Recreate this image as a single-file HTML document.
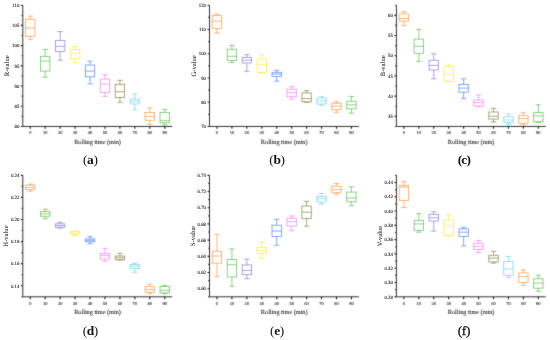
<!DOCTYPE html>
<html><head><meta charset="utf-8"><title>Box plots</title>
<style>
html,body{margin:0;padding:0;background:#fff;}
body{width:550px;height:340px;overflow:hidden;}
svg{display:block;}
svg g{fill:none;stroke-width:0.85;}
.ax{fill:none;stroke:#333;stroke-width:1.0;}
.tk{fill:none;stroke:#222;stroke-width:1.15;}
text{font-family:"Liberation Serif","Times New Roman",serif;fill:#222;}
.ty{font-size:4.8px;text-anchor:end;stroke:#333;stroke-width:0.1px;text-rendering:geometricPrecision;}
.tx{font-size:4.5px;text-anchor:middle;stroke:#333;stroke-width:0.1px;text-rendering:geometricPrecision;}
.xt{font-size:6.3px;text-anchor:middle;stroke:#333;stroke-width:0.08px;text-rendering:geometricPrecision;letter-spacing:-0.03px;}
.yt{font-size:6.6px;text-anchor:middle;stroke:#444;stroke-width:0.06px;text-rendering:geometricPrecision;}
.pl{font-size:13.4px;letter-spacing:-0.35px;font-weight:bold;text-anchor:middle;fill:#111;}
.pp{font-weight:normal;}
</style></head>
<body>
<svg width="550" height="340" viewBox="0 0 550 340">
<defs><filter id="bl" x="0" y="0" width="550" height="340" filterUnits="userSpaceOnUse" color-interpolation-filters="sRGB"><feConvolveMatrix order="3" kernelMatrix="1 2 1 2 20 2 1 2 1" edgeMode="duplicate"/></filter></defs>
<rect width="550" height="340" fill="#fff"/>
<g filter="url(#bl)">
<rect width="550" height="340" fill="#fff"/>
<g stroke="#F8A867"><rect x="25.57" y="19.3" width="9.4" height="17.2"/><path d="M25.57 27.9H34.97M30.27 19.3V16.2M30.27 36.5V39.3M27.57 16.2H32.97M27.57 39.3H32.97"/></g>
<g stroke="#79C670"><rect x="40.51" y="56.4" width="9.4" height="14.7"/><path d="M40.51 61H49.91M45.21 56.4V49.5M45.21 71.1V77.2M42.51 49.5H47.91M42.51 77.2H47.91"/></g>
<g stroke="#A092D8"><rect x="55.45" y="40.5" width="9.4" height="10.9"/><path d="M55.45 46.3H64.85M60.15 40.5V31.5M60.15 51.4V60.2M57.45 31.5H62.85M57.45 60.2H62.85"/></g>
<g stroke="#F6EC5E"><rect x="70.39" y="49.5" width="9.4" height="9.2"/><path d="M70.39 53.3H79.79M75.09 49.5V46.6M75.09 58.7V62.5M72.39 46.6H77.79M72.39 62.5H77.79"/></g>
<g stroke="#6A9AEE"><rect x="85.33" y="65" width="9.4" height="11.8"/><path d="M85.33 71.1H94.73M90.03 65V61.2M90.03 76.8V83.9M87.33 61.2H92.73M87.33 83.9H92.73"/></g>
<g stroke="#F393F0"><rect x="100.27" y="79.1" width="9.4" height="13.3"/><path d="M100.27 84.2H109.67M104.97 79.1V74.7M104.97 92.4V96.4M102.27 74.7H107.67M102.27 96.4H107.67"/></g>
<g stroke="#999867"><rect x="115.21" y="84.3" width="9.4" height="13.2"/><path d="M115.21 91.7H124.61M119.91 84.3V80.3M119.91 97.5V102.3M117.21 80.3H122.61M117.21 102.3H122.61"/></g>
<g stroke="#8CD6E8"><rect x="130.15" y="99.1" width="9.4" height="4.8"/><path d="M130.15 101.2H139.55M134.85 99.1V94M134.85 103.9V109.8M132.15 94H137.55M132.15 109.8H137.55"/></g>
<g stroke="#F8A867"><rect x="145.09" y="112.5" width="9.4" height="7.8"/><path d="M145.09 116.6H154.49M149.79 112.5V107.8M149.79 120.3V124.4M147.09 107.8H152.49M147.09 124.4H152.49"/></g>
<g stroke="#79C670"><rect x="160.03" y="112.5" width="9.4" height="10.3"/><path d="M160.03 120.7H169.43M164.73 112.5V109.6M164.73 122.8V124.9M162.03 109.6H167.43M162.03 124.9H167.43"/></g>
<path class="ax" d="M22.8 5.2V126.45H172.2"/>
<path class="tk" d="M20.8 126.45H22.8M20.8 106.24H22.8M20.8 86.03H22.8M20.8 65.83H22.8M20.8 45.62H22.8M20.8 25.41H22.8M20.8 5.2H22.8M21.6 116.35H22.8M21.6 96.14H22.8M21.6 75.93H22.8M21.6 55.72H22.8M21.6 35.51H22.8M21.6 15.3H22.8M30.27 126.45V128.85M45.21 126.45V128.85M60.15 126.45V128.85M75.09 126.45V128.85M90.03 126.45V128.85M104.97 126.45V128.85M119.91 126.45V128.85M134.85 126.45V128.85M149.79 126.45V128.85M164.73 126.45V128.85"/>
<text class="tx" x="30.27" y="134.25">0</text>
<text class="tx" x="45.21" y="134.25">10</text>
<text class="tx" x="60.15" y="134.25">20</text>
<text class="tx" x="75.09" y="134.25">30</text>
<text class="tx" x="90.03" y="134.25">40</text>
<text class="tx" x="104.97" y="134.25">50</text>
<text class="tx" x="119.91" y="134.25">60</text>
<text class="tx" x="134.85" y="134.25">70</text>
<text class="tx" x="149.79" y="134.25">80</text>
<text class="tx" x="164.73" y="134.25">90</text>
<text class="xt" x="97.5" y="143.95">Rolling time (min)</text>
<g stroke="#F8A867"><rect x="212.27" y="15.4" width="9.4" height="13"/><path d="M212.27 21.2H221.67M216.97 15.4V14M216.97 28.4V32.9M214.27 14H219.67M214.27 32.9H219.67"/></g>
<g stroke="#79C670"><rect x="227.21" y="49.3" width="9.4" height="11.1"/><path d="M227.21 56.3H236.61M231.91 49.3V45.5M231.91 60.4V62.5M229.21 45.5H234.61M229.21 62.5H234.61"/></g>
<g stroke="#A092D8"><rect x="242.15" y="57.4" width="9.4" height="5.6"/><path d="M242.15 60.2H251.55M246.85 57.4V54.7M246.85 63V71.3M244.15 54.7H249.55M244.15 71.3H249.55"/></g>
<g stroke="#F6EC5E"><rect x="257.09" y="59" width="9.4" height="13.5"/><path d="M257.09 64.5H266.49M261.79 59V54.8M261.79 72.5V73M259.09 54.8H264.49M259.09 73H264.49"/></g>
<g stroke="#6A9AEE"><rect x="272.03" y="72.3" width="9.4" height="4.1"/><path d="M272.03 74H281.43M276.73 72.3V70.3M276.73 76.4V81.2M274.03 70.3H279.43M274.03 81.2H279.43"/></g>
<g stroke="#F393F0"><rect x="286.97" y="89.2" width="9.4" height="7.5"/><path d="M286.97 92.6H296.37M291.67 89.2V86.6M291.67 96.7V99.2M288.97 86.6H294.37M288.97 99.2H294.37"/></g>
<g stroke="#999867"><rect x="301.91" y="92.9" width="9.4" height="8.9"/><path d="M301.91 98.6H311.31M306.61 92.9V90.6M306.61 101.8V102.3M303.91 90.6H309.31M303.91 102.3H309.31"/></g>
<g stroke="#8CD6E8"><rect x="316.85" y="98.2" width="9.4" height="5.8"/><path d="M316.85 100.9H326.25M321.55 98.2V96.5M321.55 104V105.3M318.85 96.5H324.25M318.85 105.3H324.25"/></g>
<g stroke="#F8A867"><rect x="331.79" y="103.2" width="9.4" height="6.5"/><path d="M331.79 106.2H341.19M336.49 103.2V101.8M336.49 109.7V112.4M333.79 101.8H339.19M333.79 112.4H339.19"/></g>
<g stroke="#79C670"><rect x="346.73" y="101.2" width="9.4" height="7.6"/><path d="M346.73 104.8H356.13M351.43 101.2V96.5M351.43 108.8V113.2M348.73 96.5H354.13M348.73 113.2H354.13"/></g>
<path class="ax" d="M209.5 5.2V126.45H358.9"/>
<path class="tk" d="M207.5 126.45H209.5M207.5 102.2H209.5M207.5 77.95H209.5M207.5 53.7H209.5M207.5 29.45H209.5M207.5 5.2H209.5M208.3 114.33H209.5M208.3 90.08H209.5M208.3 65.83H209.5M208.3 41.58H209.5M208.3 17.33H209.5M216.97 126.45V128.85M231.91 126.45V128.85M246.85 126.45V128.85M261.79 126.45V128.85M276.73 126.45V128.85M291.67 126.45V128.85M306.61 126.45V128.85M321.55 126.45V128.85M336.49 126.45V128.85M351.43 126.45V128.85"/>
<text class="tx" x="216.97" y="134.25">0</text>
<text class="tx" x="231.91" y="134.25">10</text>
<text class="tx" x="246.85" y="134.25">20</text>
<text class="tx" x="261.79" y="134.25">30</text>
<text class="tx" x="276.73" y="134.25">40</text>
<text class="tx" x="291.67" y="134.25">50</text>
<text class="tx" x="306.61" y="134.25">60</text>
<text class="tx" x="321.55" y="134.25">70</text>
<text class="tx" x="336.49" y="134.25">80</text>
<text class="tx" x="351.43" y="134.25">90</text>
<text class="xt" x="284.2" y="143.95">Rolling time (min)</text>
<g stroke="#F8A867"><rect x="399.17" y="14" width="9.4" height="7"/><path d="M399.17 18.5H408.57M403.87 14V11.7M403.87 21V25.7M401.17 11.7H406.57M401.17 25.7H406.57"/></g>
<g stroke="#79C670"><rect x="414.11" y="39.1" width="9.4" height="14.2"/><path d="M414.11 46.3H423.51M418.81 39.1V29.4M418.81 53.3V61.4M416.11 29.4H421.51M416.11 61.4H421.51"/></g>
<g stroke="#A092D8"><rect x="429.05" y="60.2" width="9.4" height="9.8"/><path d="M429.05 65.4H438.45M433.75 60.2V53.8M433.75 70V78.8M431.05 53.8H436.45M431.05 78.8H436.45"/></g>
<g stroke="#F6EC5E"><rect x="443.99" y="66.5" width="9.4" height="14.8"/><path d="M443.99 74.3H453.39M448.69 66.5V64.8M448.69 81.3V81.5M445.99 64.8H451.39M445.99 81.5H451.39"/></g>
<g stroke="#6A9AEE"><rect x="458.93" y="84.4" width="9.4" height="7.8"/><path d="M458.93 88.1H468.33M463.63 84.4V78.8M463.63 92.2V98.4M460.93 78.8H466.33M460.93 98.4H466.33"/></g>
<g stroke="#F393F0"><rect x="473.87" y="100" width="9.4" height="6.1"/><path d="M473.87 102.5H483.27M478.57 100V95M478.57 106.1V106.5M475.87 95H481.27M475.87 106.5H481.27"/></g>
<g stroke="#999867"><rect x="488.81" y="112" width="9.4" height="7.1"/><path d="M488.81 116.2H498.21M493.51 112V108.3M493.51 119.1V122.1M490.81 108.3H496.21M490.81 122.1H496.21"/></g>
<g stroke="#8CD6E8"><rect x="503.75" y="116.8" width="9.4" height="5.6"/><path d="M503.75 120H513.15M508.45 116.8V114.1M508.45 122.4V124.4M505.75 114.1H511.15M505.75 124.4H511.15"/></g>
<g stroke="#F8A867"><rect x="518.69" y="115.5" width="9.4" height="7.8"/><path d="M518.69 118.5H528.09M523.39 115.5V112.7M523.39 123.3V125M520.69 112.7H526.09M520.69 125H526.09"/></g>
<g stroke="#79C670"><rect x="533.63" y="112.4" width="9.4" height="9.3"/><path d="M533.63 115.9H543.03M538.33 112.4V104.8M538.33 121.7V122.4M535.63 104.8H541.03M535.63 122.4H541.03"/></g>
<path class="ax" d="M396.4 5.2V126.45H545.8"/>
<path class="tk" d="M394.4 116.35H396.4M394.4 96.14H396.4M394.4 75.93H396.4M394.4 55.72H396.4M394.4 35.51H396.4M394.4 15.3H396.4M395.2 126.45H396.4M395.2 106.24H396.4M395.2 86.03H396.4M395.2 65.83H396.4M395.2 45.62H396.4M395.2 25.41H396.4M395.2 5.2H396.4M403.87 126.45V128.85M418.81 126.45V128.85M433.75 126.45V128.85M448.69 126.45V128.85M463.63 126.45V128.85M478.57 126.45V128.85M493.51 126.45V128.85M508.45 126.45V128.85M523.39 126.45V128.85M538.33 126.45V128.85"/>
<text class="tx" x="403.87" y="134.25">0</text>
<text class="tx" x="418.81" y="134.25">10</text>
<text class="tx" x="433.75" y="134.25">20</text>
<text class="tx" x="448.69" y="134.25">30</text>
<text class="tx" x="463.63" y="134.25">40</text>
<text class="tx" x="478.57" y="134.25">50</text>
<text class="tx" x="493.51" y="134.25">60</text>
<text class="tx" x="508.45" y="134.25">70</text>
<text class="tx" x="523.39" y="134.25">80</text>
<text class="tx" x="538.33" y="134.25">90</text>
<text class="xt" x="471.1" y="143.95">Rolling time (min)</text>
<g stroke="#F8A867"><rect x="25.57" y="185" width="9.4" height="4.6"/><path d="M25.57 187.4H34.97M30.27 185V184.2M30.27 189.6V191.2M27.57 184.2H32.97M27.57 191.2H32.97"/></g>
<g stroke="#79C670"><rect x="40.51" y="211.6" width="9.4" height="4.7"/><path d="M40.51 213.9H49.91M45.21 211.6V209.1M45.21 216.3V218.8M42.51 209.1H47.91M42.51 218.8H47.91"/></g>
<g stroke="#A092D8"><rect x="55.45" y="223.8" width="9.4" height="3.4"/><path d="M55.45 225.6H64.85M60.15 223.8V222.3M60.15 227.2V228.2M57.45 222.3H62.85M57.45 228.2H62.85"/></g>
<g stroke="#F6EC5E"><rect x="70.39" y="231.5" width="9.4" height="2.7"/><path d="M70.39 233H79.79M75.09 231.5V231M75.09 234.2V235.5M72.39 231H77.79M72.39 235.5H77.79"/></g>
<g stroke="#6A9AEE"><rect x="85.33" y="238.9" width="9.4" height="2.8"/><path d="M85.33 240.2H94.73M90.03 238.9V236.6M90.03 241.7V243.7M87.33 236.6H92.73M87.33 243.7H92.73"/></g>
<g stroke="#F393F0"><rect x="100.27" y="253.4" width="9.4" height="5.7"/><path d="M100.27 255.6H109.67M104.97 253.4V248.4M104.97 259.1V261.2M102.27 248.4H107.67M102.27 261.2H107.67"/></g>
<g stroke="#999867"><rect x="115.21" y="256" width="9.4" height="3.7"/><path d="M115.21 257.7H124.61M119.91 256V253.4M119.91 259.7V260.1M117.21 253.4H122.61M117.21 260.1H122.61"/></g>
<g stroke="#8CD6E8"><rect x="130.15" y="264.5" width="9.4" height="4.1"/><path d="M130.15 266.3H139.55M134.85 264.5V263.2M134.85 268.6V272.2M132.15 263.2H137.55M132.15 272.2H137.55"/></g>
<g stroke="#F8A867"><rect x="145.09" y="286.4" width="9.4" height="5.7"/><path d="M145.09 289.4H154.49M149.79 286.4V284.1M149.79 292.1V293.8M147.09 284.1H152.49M147.09 293.8H152.49"/></g>
<g stroke="#79C670"><rect x="160.03" y="286.4" width="9.4" height="6.5"/><path d="M160.03 290.3H169.43M164.73 286.4V285.5M164.73 292.9V293.8M162.03 285.5H167.43M162.03 293.8H167.43"/></g>
<path class="ax" d="M22.8 175.3V296.8H172.2"/>
<path class="tk" d="M20.8 285.75H22.8M20.8 263.66H22.8M20.8 241.57H22.8M20.8 219.48H22.8M20.8 197.39H22.8M20.8 175.3H22.8M21.6 296.8H22.8M21.6 274.71H22.8M21.6 252.62H22.8M21.6 230.53H22.8M21.6 208.44H22.8M21.6 186.35H22.8M30.27 296.8V299.2M45.21 296.8V299.2M60.15 296.8V299.2M75.09 296.8V299.2M90.03 296.8V299.2M104.97 296.8V299.2M119.91 296.8V299.2M134.85 296.8V299.2M149.79 296.8V299.2M164.73 296.8V299.2"/>
<text class="tx" x="30.27" y="304.6">0</text>
<text class="tx" x="45.21" y="304.6">10</text>
<text class="tx" x="60.15" y="304.6">20</text>
<text class="tx" x="75.09" y="304.6">30</text>
<text class="tx" x="90.03" y="304.6">40</text>
<text class="tx" x="104.97" y="304.6">50</text>
<text class="tx" x="119.91" y="304.6">60</text>
<text class="tx" x="134.85" y="304.6">70</text>
<text class="tx" x="149.79" y="304.6">80</text>
<text class="tx" x="164.73" y="304.6">90</text>
<text class="xt" x="97.5" y="314.3">Rolling time (min)</text>
<g stroke="#F8A867"><rect x="212.27" y="251.3" width="9.4" height="11.9"/><path d="M212.27 256H221.67M216.97 251.3V234.4M216.97 263.2V276.6M214.27 234.4H219.67M214.27 276.6H219.67"/></g>
<g stroke="#79C670"><rect x="227.21" y="259.5" width="9.4" height="17.5"/><path d="M227.21 264.7H236.61M231.91 259.5V248.8M231.91 277V286.3M229.21 248.8H234.61M229.21 286.3H234.61"/></g>
<g stroke="#A092D8"><rect x="242.15" y="264.9" width="9.4" height="9.7"/><path d="M242.15 270.4H251.55M246.85 264.9V259.1M246.85 274.6V278.7M244.15 259.1H249.55M244.15 278.7H249.55"/></g>
<g stroke="#F6EC5E"><rect x="257.09" y="247.4" width="9.4" height="6"/><path d="M257.09 250.5H266.49M261.79 247.4V242.2M261.79 253.4V258.7M259.09 242.2H264.49M259.09 258.7H264.49"/></g>
<g stroke="#6A9AEE"><rect x="272.03" y="225.2" width="9.4" height="11.3"/><path d="M272.03 231H281.43M276.73 225.2V219.4M276.73 236.5V245.3M274.03 219.4H279.43M274.03 245.3H279.43"/></g>
<g stroke="#F393F0"><rect x="286.97" y="218.2" width="9.4" height="7.8"/><path d="M286.97 221.7H296.37M291.67 218.2V216M291.67 226V230.7M288.97 216H294.37M288.97 230.7H294.37"/></g>
<g stroke="#999867"><rect x="301.91" y="206" width="9.4" height="12.4"/><path d="M301.91 212.2H311.31M306.61 206V201.3M306.61 218.4V226.2M303.91 201.3H309.31M303.91 226.2H309.31"/></g>
<g stroke="#8CD6E8"><rect x="316.85" y="196.4" width="9.4" height="5.6"/><path d="M316.85 198.6H326.25M321.55 196.4V193.5M321.55 202V204.1M318.85 193.5H324.25M318.85 204.1H324.25"/></g>
<g stroke="#F8A867"><rect x="331.79" y="186.2" width="9.4" height="6.3"/><path d="M331.79 189.5H341.19M336.49 186.2V183.5M336.49 192.5V194.2M333.79 183.5H339.19M333.79 194.2H339.19"/></g>
<g stroke="#79C670"><rect x="346.73" y="192.1" width="9.4" height="9.7"/><path d="M346.73 197.9H356.13M351.43 192.1V186.8M351.43 201.8V205.8M348.73 186.8H354.13M348.73 205.8H354.13"/></g>
<path class="ax" d="M209.5 175.3V296.8H358.9"/>
<path class="tk" d="M207.5 288.7H209.5M207.5 272.5H209.5M207.5 256.3H209.5M207.5 240.1H209.5M207.5 223.9H209.5M207.5 207.7H209.5M207.5 191.5H209.5M207.5 175.3H209.5M208.3 296.8H209.5M208.3 280.6H209.5M208.3 264.4H209.5M208.3 248.2H209.5M208.3 232H209.5M208.3 215.8H209.5M208.3 199.6H209.5M208.3 183.4H209.5M216.97 296.8V299.2M231.91 296.8V299.2M246.85 296.8V299.2M261.79 296.8V299.2M276.73 296.8V299.2M291.67 296.8V299.2M306.61 296.8V299.2M321.55 296.8V299.2M336.49 296.8V299.2M351.43 296.8V299.2"/>
<text class="tx" x="216.97" y="304.6">0</text>
<text class="tx" x="231.91" y="304.6">10</text>
<text class="tx" x="246.85" y="304.6">20</text>
<text class="tx" x="261.79" y="304.6">30</text>
<text class="tx" x="276.73" y="304.6">40</text>
<text class="tx" x="291.67" y="304.6">50</text>
<text class="tx" x="306.61" y="304.6">60</text>
<text class="tx" x="321.55" y="304.6">70</text>
<text class="tx" x="336.49" y="304.6">80</text>
<text class="tx" x="351.43" y="304.6">90</text>
<text class="xt" x="284.2" y="314.3">Rolling time (min)</text>
<g stroke="#F8A867"><rect x="399.17" y="185.4" width="9.4" height="15.1"/><path d="M399.17 187.1H408.57M403.87 185.4V181.7M403.87 200.5V207.5M401.17 181.7H406.57M401.17 207.5H406.57"/></g>
<g stroke="#79C670"><rect x="414.11" y="220.4" width="9.4" height="9.9"/><path d="M414.11 223.9H423.51M418.81 220.4V213.6M418.81 230.3V232.2M416.11 213.6H421.51M416.11 232.2H421.51"/></g>
<g stroke="#A092D8"><rect x="429.05" y="214.3" width="9.4" height="6.8"/><path d="M429.05 217.8H438.45M433.75 214.3V211.8M433.75 221.1V231.1M431.05 211.8H436.45M431.05 231.1H436.45"/></g>
<g stroke="#F6EC5E"><rect x="443.99" y="220" width="9.4" height="15.5"/><path d="M443.99 226H453.39M448.69 220V214.9M448.69 235.5V236M445.99 214.9H451.39M445.99 236H451.39"/></g>
<g stroke="#6A9AEE"><rect x="458.93" y="228.9" width="9.4" height="7.5"/><path d="M458.93 232.2H468.33M463.63 228.9V227.3M463.63 236.4V245.9M460.93 227.3H466.33M460.93 245.9H466.33"/></g>
<g stroke="#F393F0"><rect x="473.87" y="243.1" width="9.4" height="6.3"/><path d="M473.87 246.4H483.27M478.57 243.1V240.5M478.57 249.4V252.5M475.87 240.5H481.27M475.87 252.5H481.27"/></g>
<g stroke="#999867"><rect x="488.81" y="255.3" width="9.4" height="6.6"/><path d="M488.81 258.1H498.21M493.51 255.3V251.3M493.51 261.9V263.1M490.81 251.3H496.21M490.81 263.1H496.21"/></g>
<g stroke="#8CD6E8"><rect x="503.75" y="261.6" width="9.4" height="13.7"/><path d="M503.75 268.9H513.15M508.45 261.6V256.5M508.45 275.3V277.6M505.75 256.5H511.15M505.75 277.6H511.15"/></g>
<g stroke="#F8A867"><rect x="518.69" y="272.9" width="9.4" height="9.5"/><path d="M518.69 276.5H528.09M523.39 272.9V269.9M523.39 282.4V285.2M520.69 269.9H526.09M520.69 285.2H526.09"/></g>
<g stroke="#79C670"><rect x="533.63" y="278.8" width="9.4" height="9.4"/><path d="M533.63 283.1H543.03M538.33 278.8V275.3M538.33 288.2V291.3M535.63 275.3H541.03M535.63 291.3H541.03"/></g>
<path class="ax" d="M396.4 175.3V296.8H545.8"/>
<path class="tk" d="M394.4 296.8H396.4M394.4 282.51H396.4M394.4 268.21H396.4M394.4 253.92H396.4M394.4 239.62H396.4M394.4 225.33H396.4M394.4 211.04H396.4M394.4 196.74H396.4M394.4 182.45H396.4M395.2 289.65H396.4M395.2 275.36H396.4M395.2 261.06H396.4M395.2 246.77H396.4M395.2 232.48H396.4M395.2 218.18H396.4M395.2 203.89H396.4M395.2 189.59H396.4M395.2 175.3H396.4M403.87 296.8V299.2M418.81 296.8V299.2M433.75 296.8V299.2M448.69 296.8V299.2M463.63 296.8V299.2M478.57 296.8V299.2M493.51 296.8V299.2M508.45 296.8V299.2M523.39 296.8V299.2M538.33 296.8V299.2"/>
<text class="tx" x="403.87" y="304.6">0</text>
<text class="tx" x="418.81" y="304.6">10</text>
<text class="tx" x="433.75" y="304.6">20</text>
<text class="tx" x="448.69" y="304.6">30</text>
<text class="tx" x="463.63" y="304.6">40</text>
<text class="tx" x="478.57" y="304.6">50</text>
<text class="tx" x="493.51" y="304.6">60</text>
<text class="tx" x="508.45" y="304.6">70</text>
<text class="tx" x="523.39" y="304.6">80</text>
<text class="tx" x="538.33" y="304.6">90</text>
<text class="xt" x="471.1" y="314.3">Rolling time (min)</text>
</g>
<text class="ty" x="19.3" y="128.2">80</text>
<text class="ty" x="19.3" y="107.99">85</text>
<text class="ty" x="19.3" y="87.78">90</text>
<text class="ty" x="19.3" y="67.58">95</text>
<text class="ty" x="19.3" y="47.37">100</text>
<text class="ty" x="19.3" y="27.16">105</text>
<text class="ty" x="19.3" y="6.95">110</text>
<text class="yt" transform="translate(9.2 65.83) rotate(-90)">R-value</text>
<text class="pl" x="90.3" y="164.45"><tspan class="pp">(</tspan>a<tspan class="pp">)</tspan></text>
<text class="ty" x="206" y="128.2">70</text>
<text class="ty" x="206" y="103.95">80</text>
<text class="ty" x="206" y="79.7">90</text>
<text class="ty" x="206" y="55.45">100</text>
<text class="ty" x="206" y="31.2">110</text>
<text class="ty" x="206" y="6.95">120</text>
<text class="yt" transform="translate(196.2 65.83) rotate(-90)">G-value</text>
<text class="pl" x="277" y="164.45"><tspan class="pp">(</tspan>b<tspan class="pp">)</tspan></text>
<text class="ty" x="392.9" y="118.1">35</text>
<text class="ty" x="392.9" y="97.89">40</text>
<text class="ty" x="392.9" y="77.68">45</text>
<text class="ty" x="392.9" y="57.47">50</text>
<text class="ty" x="392.9" y="37.26">55</text>
<text class="ty" x="392.9" y="17.05">60</text>
<text class="yt" transform="translate(385.4 65.83) rotate(-90)">B-value</text>
<text class="pl" style="letter-spacing:-0.8px" x="463.9" y="164.45">(c)</text>
<text class="ty" x="19.3" y="287.5">0.14</text>
<text class="ty" x="19.3" y="265.41">0.16</text>
<text class="ty" x="19.3" y="243.32">0.18</text>
<text class="ty" x="19.3" y="221.23">0.20</text>
<text class="ty" x="19.3" y="199.14">0.22</text>
<text class="ty" x="19.3" y="177.05">0.24</text>
<text class="yt" transform="translate(8.3 236.05) rotate(-90)">H-value</text>
<text class="pl" x="90.3" y="334.8"><tspan class="pp">(</tspan>d<tspan class="pp">)</tspan></text>
<text class="ty" x="206" y="290.45">0.60</text>
<text class="ty" x="206" y="274.25">0.62</text>
<text class="ty" x="206" y="258.05">0.64</text>
<text class="ty" x="206" y="241.85">0.66</text>
<text class="ty" x="206" y="225.65">0.68</text>
<text class="ty" x="206" y="209.45">0.70</text>
<text class="ty" x="206" y="193.25">0.72</text>
<text class="ty" x="206" y="177.05">0.74</text>
<text class="yt" transform="translate(194.8 236.05) rotate(-90)">S-value</text>
<text class="pl" x="277" y="334.8"><tspan class="pp">(</tspan>e<tspan class="pp">)</tspan></text>
<text class="ty" x="392.9" y="298.55">0.28</text>
<text class="ty" x="392.9" y="284.26">0.30</text>
<text class="ty" x="392.9" y="269.96">0.32</text>
<text class="ty" x="392.9" y="255.67">0.34</text>
<text class="ty" x="392.9" y="241.37">0.36</text>
<text class="ty" x="392.9" y="227.08">0.38</text>
<text class="ty" x="392.9" y="212.79">0.40</text>
<text class="ty" x="392.9" y="198.49">0.42</text>
<text class="ty" x="392.9" y="184.2">0.44</text>
<text class="yt" transform="translate(382 236.05) rotate(-90)">V-value</text>
<text class="pl pp" style="stroke:#111;stroke-width:0.3px" x="463.9" y="334.8">(f)</text>
</svg>
</body></html>
